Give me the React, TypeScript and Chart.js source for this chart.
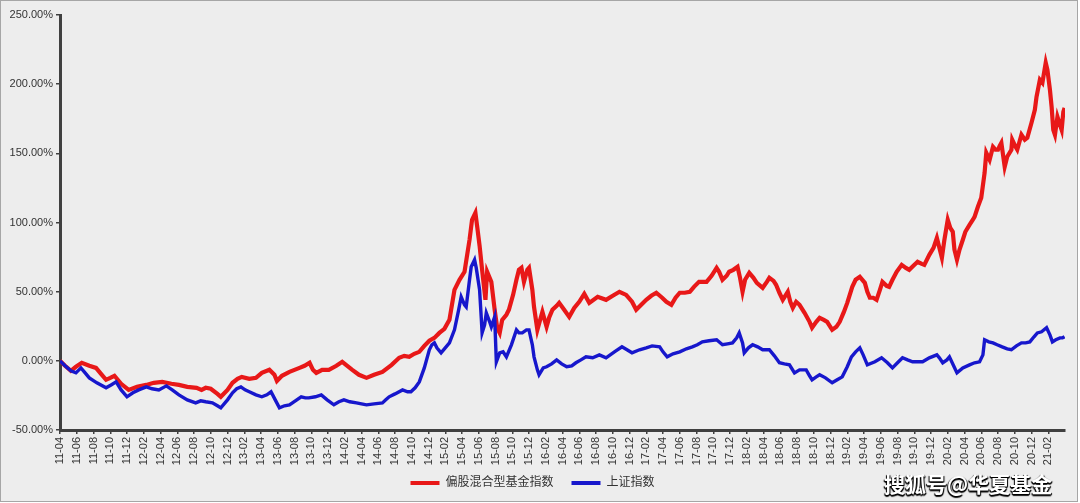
import React, { useEffect, useRef } from "react";
import { Chart, registerables } from "chart.js";

Chart.register(...registerables);

// x-axis tick labels (every 2 months, month index 0 = 2011-04)
const tickLabels = [
  "11-04", "11-06", "11-08", "11-10", "11-12",
  "12-02", "12-04", "12-06", "12-08", "12-10", "12-12",
  "13-02", "13-04", "13-06", "13-08", "13-10", "13-12",
  "14-02", "14-04", "14-06", "14-08", "14-10", "14-12",
  "15-02", "15-04", "15-06", "15-08", "15-10", "15-12",
  "16-02", "16-04", "16-06", "16-08", "16-10", "16-12",
  "17-02", "17-04", "17-06", "17-08", "17-10", "17-12",
  "18-02", "18-04", "18-06", "18-08", "18-10", "18-12",
  "19-02", "19-04", "19-06", "19-08", "19-10", "19-12",
  "20-02", "20-04", "20-06", "20-08", "20-10", "20-12",
  "21-02",
];

const seriesNames = ["偏股混合型基金指数", "上证指数"];

// 偏股混合型基金指数: month index (from 2011-04) and cumulative return (%)
const fundMonths = [
  0, 0.6, 1.3, 1.9, 2.6, 3.5, 4.3, 4.9, 5.5, 6.0,
  6.5, 7.3, 8.2, 9.2, 10.3, 11.2, 12.2, 13.3, 14.2, 15.2,
  16.3, 16.9, 17.4, 18.0, 18.8, 19.2, 20.0, 20.6, 21.2, 21.7,
  22.6, 23.4, 24.1, 25.0, 25.6, 25.9, 26.5, 27.4, 28.6, 29.2,
  29.8, 30.2, 30.6, 31.3, 32.1, 33.0, 33.7, 34.3, 34.9, 35.7,
  36.6, 37.5, 38.5, 39.6, 40.5, 41.1, 41.7, 42.3, 42.9, 43.5,
  44.1, 44.7, 45.3, 45.9, 46.5, 47.1, 47.7, 48.3, 48.9, 49.2,
  49.6, 49.8, 50.1, 50.4, 50.8, 51.0, 51.5, 51.9, 52.2, 52.5,
  52.8, 53.3, 53.6, 54.1, 54.5, 54.8, 55.1, 55.4, 55.8, 56.0,
  56.4, 56.6, 57.0, 57.4, 57.6, 58.1, 58.4, 58.8, 59.3, 59.6,
  60.2, 60.8, 61.4, 62.0, 62.6, 63.2, 64.2, 65.2, 66.0, 66.8,
  67.6, 68.3, 68.8, 69.4, 70.0, 70.6, 71.2, 71.9, 72.4, 73.0,
  73.5, 74.0, 74.6, 75.2, 75.7, 76.3, 77.2, 77.8, 78.4, 78.7,
  79.1, 79.6, 79.9, 80.4, 80.9, 81.2, 81.5, 81.8, 82.3, 82.8,
  83.2, 83.9, 84.4, 84.7, 85.2, 85.5, 85.9, 86.3, 86.9, 87.2,
  87.5, 87.9, 88.3, 88.9, 89.5, 89.8, 90.3, 90.7, 91.2, 91.6,
  92.2, 92.7, 93.1, 93.6, 94.0, 94.6, 95.0, 95.5, 96.1, 96.4,
  96.7, 97.1, 97.5, 97.9, 98.2, 98.7, 99.0, 99.4, 99.9, 100.5,
  101.0, 101.4, 101.9, 102.4, 102.9, 103.2, 103.8, 104.3, 104.7, 105.0,
  105.3, 105.6, 106.0, 106.3, 106.6, 106.8, 107.1, 107.4, 107.8, 108.1,
  108.6, 109.0, 109.2, 109.6, 110.0, 110.4, 110.6, 111.0, 111.4, 111.7,
  112.0, 112.2, 112.4, 112.8, 113.1, 113.6, 113.7, 114.1, 114.3, 114.8,
  115.2, 115.5, 116.0, 116.4, 116.6, 117.0, 117.3, 117.7, 117.9, 118.2,
  118.4, 118.6, 118.8, 119.1, 119.4, 119.6, 119.8, 119.95,
];
const fundValues = [
  0, -3.6, -7.2, -4.3, -1.4, -3.6, -5.1, -9.4, -13.7, -12.3,
  -10.8, -16.6, -21.0, -18.8, -17.4, -15.9, -15.2, -16.6, -17.4, -18.8,
  -19.5, -21.0, -19.5, -20.2, -23.9, -26.0, -21.0, -15.9, -13.0, -11.6,
  -13.0, -12.3, -8.7, -6.5, -10.1, -14.5, -10.8, -8.0, -5.1, -3.6,
  -1.4, -6.5, -8.7, -6.5, -6.5, -3.6, -0.7, -3.6, -6.5, -10.1,
  -12.3, -10.1, -8.0, -2.9, 2.2, 3.6, 2.9, 5.1, 6.5, 10.8,
  14.5, 16.6, 20.2, 23.1, 29.6, 51.3, 58.6, 64.4, 87.5, 102.0,
  107.0, 97.6, 83.2, 65.8, 44.1, 64.4, 57.1, 36.9, 23.9, 20.2,
  29.6, 33.3, 36.9, 47.7, 58.6, 65.8, 67.2, 57.1, 65.8, 67.2,
  51.3, 39.0, 22.4, 31.1, 35.4, 24.6, 31.1, 36.9, 39.8, 41.9,
  36.9, 31.8, 38.3, 42.7, 48.4, 41.9, 46.3, 44.1, 47.0, 49.9,
  47.7, 42.7, 36.9, 40.5, 44.1, 47.0, 49.2, 45.6, 42.7, 40.5,
  45.6, 49.2, 49.2, 49.9, 53.5, 57.1, 57.1, 61.5, 67.2, 64.4,
  58.6, 61.5, 64.4, 65.8, 68.0, 60.0, 49.9, 58.6, 63.6, 60.0,
  56.4, 52.8, 57.1, 60.0, 57.8, 55.0, 49.2, 44.1, 49.9, 42.7,
  38.3, 42.7, 40.5, 34.7, 28.2, 23.9, 28.2, 31.1, 29.6, 28.2,
  22.4, 24.6, 28.2, 35.4, 41.9, 53.5, 58.6, 60.7, 56.4, 49.9,
  45.6, 45.6, 44.1, 51.3, 57.1, 54.2, 53.5, 58.6, 64.4, 69.4,
  67.2, 65.8, 68.7, 71.6, 70.1, 69.4, 76.6, 81.7, 88.9, 81.7,
  74.5, 87.5, 102.0, 96.2, 93.3, 80.3, 73.0, 80.3, 87.5, 93.3,
  98.3, 102.0, 104.1, 111.4, 117.9, 135.9, 150.4, 145.3, 154.7, 152.6,
  152.6, 155.4, 157.6, 140.3, 147.5, 152.6, 159.8, 154.7, 152.6, 163.4,
  159.8, 161.2, 172.1, 181.5, 190.9, 203.2, 201.0, 215.5, 210.4, 196.0,
  183.7, 167.0, 163.4, 176.4, 170.6, 167.0, 180.0, 182.9,
];

// 上证指数: month index (from 2011-04) and cumulative return (%)
const indexMonths = [
  0, 0.6, 1.3, 1.9, 2.5, 3.0, 3.5, 4.4, 5.5, 6.1,
  6.7, 7.3, 8.0, 8.7, 9.4, 10.3, 11.0, 11.8, 12.7, 13.4,
  14.2, 15.2, 16.2, 16.8, 17.4, 18.2, 18.8, 19.2, 20.0, 20.6,
  21.1, 21.6, 22.1, 22.6, 23.4, 24.1, 24.7, 25.2, 25.7, 26.2,
  26.8, 27.4, 28.1, 28.8, 29.3, 29.7, 30.5, 31.2, 31.9, 32.7,
  33.3, 33.9, 34.6, 35.4, 36.0, 36.6, 37.5, 38.5, 38.9, 39.3,
  40.0, 40.9, 41.5, 41.9, 42.4, 42.9, 43.5, 44.1, 44.4, 44.7,
  45.0, 45.5, 46.0, 46.5, 47.1, 47.6, 47.9, 48.3, 48.5, 48.9,
  49.1, 49.5, 49.7, 50.1, 50.3, 50.4, 50.7, 50.9, 51.3, 51.5,
  51.9, 52.1, 52.5, 52.9, 53.3, 53.9, 54.5, 54.8, 55.2, 55.7,
  56.0, 56.4, 56.6, 57.0, 57.2, 57.7, 58.1, 58.7, 59.3, 59.9,
  60.5, 61.1, 61.6, 62.2, 62.8, 63.6, 64.4, 65.2, 66.2, 67.1,
  67.7, 68.3, 69.2, 70.0, 70.7, 71.6, 72.0, 72.5, 73.2, 74.0,
  74.8, 75.5, 76.1, 76.7, 77.5, 78.4, 79.1, 79.7, 80.3, 80.8,
  81.1, 81.5, 81.7, 82.2, 82.7, 83.3, 83.9, 84.7, 85.3, 85.9,
  86.5, 87.1, 87.7, 88.3, 88.8, 89.1, 89.5, 89.8, 90.3, 90.7,
  91.4, 92.2, 92.8, 93.4, 94.0, 94.5, 95.0, 95.5, 95.9, 96.4,
  97.3, 98.1, 98.8, 99.4, 100.0, 100.6, 101.2, 101.8, 102.4, 103.0,
  103.8, 104.7, 105.0, 105.4, 105.9, 106.2, 106.7, 107.1, 107.8, 108.6,
  109.2, 109.8, 110.2, 110.4, 110.9, 111.4, 111.9, 112.5, 113.1, 113.6,
  114.2, 114.8, 115.3, 115.8, 116.3, 116.7, 117.2, 117.8, 118.2, 118.5,
  118.9, 119.4, 119.7, 119.95,
];
const indexValues = [
  0, -3.6, -7.2, -8.7, -5.1, -8.7, -12.3, -15.9, -19.5, -17.4,
  -15.2, -21.0, -26.0, -23.1, -21.0, -18.8, -20.2, -21.0, -18.1, -21.0,
  -24.6, -28.2, -30.4, -28.9, -29.6, -30.4, -32.5, -34.0, -28.2, -23.1,
  -20.2, -18.8, -21.0, -22.4, -24.6, -26.0, -24.6, -22.4, -28.2, -34.0,
  -32.5, -31.8, -28.9, -26.0, -26.8, -26.8, -26.0, -24.6, -28.2, -31.8,
  -29.6, -28.2, -29.6, -30.4, -31.1, -31.8, -31.1, -30.4, -28.2, -26.0,
  -23.9, -21.0, -22.4, -22.4, -19.5, -15.2, -5.1, 8.0, 11.6, 13.0,
  9.4, 5.8, 9.4, 13.0, 22.4, 36.9, 46.3, 40.5, 39.0, 58.6,
  68.0, 73.0, 67.2, 51.3, 31.1, 20.2, 26.0, 34.7, 28.2, 24.6,
  31.8, -0.7, 5.8, 6.5, 2.9, 11.6, 22.4, 20.2, 20.2, 22.4,
  22.4, 11.6, 2.9, -6.5, -10.1, -5.1, -4.3, -2.2, 0.7, -2.2,
  -4.3, -3.6, -1.4, 0.7, 2.9, 2.2, 4.3, 2.2, 6.5, 10.1,
  8.0, 5.8, 8.0, 9.4, 10.8, 10.1, 6.5, 2.9, 5.1, 6.5,
  8.7, 10.1, 11.6, 13.7, 14.5, 15.2, 11.6, 12.3, 13.0, 16.6,
  20.2, 13.0, 5.8, 9.4, 11.6, 10.1, 8.0, 8.0, 3.6, -1.4,
  -2.2, -2.9, -8.7, -6.5, -6.5, -6.5, -10.8, -13.7, -11.6, -10.1,
  -12.3, -15.9, -13.7, -11.6, -4.3, 2.9, 6.5, 9.4, 4.3, -2.9,
  -0.7, 2.2, -1.4, -5.1, -1.4, 2.2, 0.7, -0.7, -0.7, -0.7,
  2.2, 4.3, 2.2, -1.4, 0.7, 2.9, -3.6, -8.7, -5.1, -2.9,
  -1.4, -0.7, 4.3, 15.2, 13.7, 13.0, 11.6, 10.1, 8.7, 8.0,
  10.8, 13.0, 13.0, 13.7, 17.4, 20.2, 21.0, 23.9, 18.8, 13.7,
  15.2, 16.6, 16.6, 17.4,
];

const FONT = "'Liberation Sans', Arial, 'Noto Sans CJK SC', sans-serif";
const AXIS_COLOR = "#404040";
const TEXT_COLOR = "#333333";

const backgroundPlugin = {
  id: "bgFrame",
  beforeDraw(chart: any) {
    const { ctx, width, height } = chart;
    ctx.save();
    ctx.fillStyle = "#ffffff";
    ctx.fillRect(0, 0, width, height);
    ctx.fillStyle = "#EDEDED";
    ctx.fillRect(0, 0, 1078, 502);
    ctx.strokeStyle = "#A6A6A6";
    ctx.lineWidth = 1;
    ctx.strokeRect(0.5, 0.5, 1077, 501);
    ctx.restore();
  },
};

export default function App() {
  const canvasRef = useRef<HTMLCanvasElement | null>(null);

  useEffect(() => {
    document.body.style.margin = "0";
    const canvas = canvasRef.current;
    if (!canvas) return;

    const fundData = fundMonths.map((m, i) => ({ x: m, y: fundValues[i] }));
    const indexData = indexMonths.map((m, i) => ({ x: m, y: indexValues[i] }));

    const chart = new Chart(canvas, {
      type: "line",
      data: {
        datasets: [
          {
            label: seriesNames[0],
            data: fundData,
            borderColor: "#E81818",
            backgroundColor: "#E81818",
            borderWidth: 4.2,
            pointRadius: 0,
            tension: 0,
            order: 2,
          },
          {
            label: seriesNames[1],
            data: indexData,
            borderColor: "#1717CC",
            backgroundColor: "#1717CC",
            borderWidth: 3.4,
            pointRadius: 0,
            tension: 0,
            order: 1,
          },
        ],
      },
      options: {
        responsive: false,
        animation: false,
        devicePixelRatio: 1,
        layout: { padding: { left: 0, right: 15, top: 15, bottom: 4 } },
        plugins: {
          tooltip: { enabled: false },
          legend: {
            position: "bottom",
            labels: {
              boxWidth: 29,
              boxHeight: 4,
              padding: 18,
              color: TEXT_COLOR,
              font: { size: 12, family: FONT },
              sort: (a: any, b: any) => a.datasetIndex - b.datasetIndex,
              generateLabels: (c: any) =>
                (Chart.defaults.plugins.legend.labels as any)
                  .generateLabels(c)
                  .map((l: any) => ({ ...l, lineWidth: 0 })),
            },
          },
        },
        scales: {
          x: {
            type: "linear",
            min: 0,
            max: 120,
            afterBuildTicks: (s: any) => {
              s.ticks = tickLabels.map((_, i) => ({ value: i * 2 }));
            },
            afterFit: (s: any) => {
              s.height = 29;
              // let the rotated labels run past the (shortened) scale box
              s._computeLabelArea = () => undefined;
            },
            ticks: {
              autoSkip: false,
              minRotation: 90,
              maxRotation: 90,
              padding: 3,
              color: TEXT_COLOR,
              font: { size: 11, family: FONT },
              callback: (_v: any, i: number) => tickLabels[i] ?? "",
            },
            grid: {
              display: true,
              drawOnChartArea: false,
              drawTicks: true,
              tickLength: 4,
              color: AXIS_COLOR,
              lineWidth: 1.5,
            },
            border: { display: true, color: AXIS_COLOR, width: 3 },
          },
          y: {
            type: "linear",
            min: -50,
            max: 250,
            afterFit: (s: any) => {
              s.width = 60;
            },
            ticks: {
              stepSize: 50,
              padding: 3,
              color: TEXT_COLOR,
              font: { size: 11, family: FONT },
              callback: (v: any) => Number(v).toFixed(2) + "%",
            },
            grid: {
              display: true,
              drawOnChartArea: false,
              drawTicks: true,
              tickLength: 4,
              color: AXIS_COLOR,
              lineWidth: 1.5,
            },
            border: { display: true, color: AXIS_COLOR, width: 3 },
          },
        },
      } as any,
      plugins: [backgroundPlugin],
    });

    return () => chart.destroy();
  }, []);

  return (
    <div style={{ position: "relative", width: 1080, height: 503 }}>
      <canvas ref={canvasRef} width={1080} height={503} style={{ display: "block" }} />
      <div
        style={{
          position: "absolute",
          left: 884,
          top: 468,
          fontFamily: "'Noto Sans CJK SC', sans-serif",
          fontWeight: 700,
          fontSize: 21,
          color: "#ffffff",
          whiteSpace: "nowrap",
          textShadow: "-1px 1px 1px #000, 1px 1px 1px #000, 0 2px 1px #222",
        }}
      >
        搜狐号@华夏基金
      </div>
    </div>
  );
}
